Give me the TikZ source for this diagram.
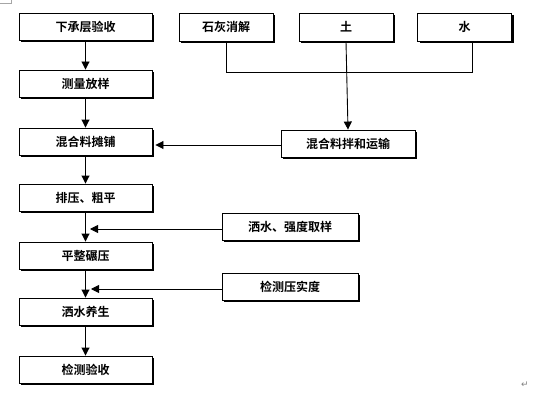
\documentclass[tikz,border=0pt]{standalone}
\usepackage{fontspec}
\newfontfamily\cjk{Noto Sans CJK SC}[BoldFont={Noto Sans CJK SC Bold}]
\newfontfamily\sym{DejaVu Sans}
\usetikzlibrary{arrows.meta,shadows}
\begin{document}
\begin{tikzpicture}[x=1pt,y=-1pt,
  box/.style={draw=black,line width=0.9pt,fill=white,inner sep=0pt,
    font=\cjk\bfseries\fontsize{12}{12}\selectfont,
    drop shadow={shadow xshift=2.2pt,shadow yshift=-2.2pt,opacity=1,fill=black}},
  lbox/.style={box,minimum width=133pt,minimum height=27pt},
  tbox/.style={box,minimum width=94pt,minimum height=28pt},
  rbox/.style={box,minimum width=136pt,minimum height=27pt},
  conn/.style={line width=0.9pt},
  arr/.style={conn,-{Triangle[length=8pt,width=8pt]}}]
\useasboundingbox (0,0) rectangle (552,404);
% left column
\node[lbox] (a1) at (85.5,26.5) {下承层验收};
\node[lbox] (a2) at (85.5,83.5) {测量放样};
\node[lbox] (a3) at (85.5,141.5) {混合料摊铺};
\node[lbox] (a4) at (85.5,197.5) {排压、粗平};
\node[lbox] (a5) at (85.5,255.5) {平整碾压};
\node[lbox] (a6) at (85.5,311.5) {洒水养生};
\node[lbox] (a7) at (85.5,369.5) {检测验收};
% top row
\node[tbox] (t1) at (226,27) {石灰消解};
\node[tbox] (t2) at (346,27) {土};
\node[tbox] (t3) at (464.5,27) {水};
% right boxes
\node[box,minimum width=134pt,minimum height=27pt] (m) at (348,143.5) {混合料拌和运输};
\node[rbox] (s) at (290,226.5) {洒水、强度取样};
\node[rbox] (c) at (290,286.5) {检测压实度};
% coordinates
\coordinate (b1) at (226,72);
\coordinate (b3) at (472,72);
\coordinate (t3b) at (472,41);
\coordinate (j5) at (90,229);
\coordinate (j6) at (91,289);
% connectors
\draw[arr] (a1.south) -- (a2.north);
\draw[arr] (a2.south) -- (a3.north);
\draw[arr] (a3.south) -- (a4.north);
\draw[arr] (a4.south) -- (a5.north);
\draw[arr] (a5.south) -- (a6.north);
\draw[arr] (a6.south) -- (a7.north);
\draw[conn] (t1.south) -- (b1) -- (b3) -- (t3b);
\draw[arr] (t2.south) -- (m.north);
\draw[arr] (m.west |- 0,145) -- ([xshift=3pt]a3.east |- 0,145);
\draw[arr] (s.west |- 0,229) -- (j5);
\draw[arr] (c.west |- 0,289) -- (j6);
% marks
\draw[gray!70,line width=0.8pt] (0,3) -- (11,3) -- (11,0);
\node[text=gray,font=\sym\fontsize{9}{9}\selectfont,inner sep=0pt] (pm) at (525,385) {↵};
\end{tikzpicture}
\end{document}
